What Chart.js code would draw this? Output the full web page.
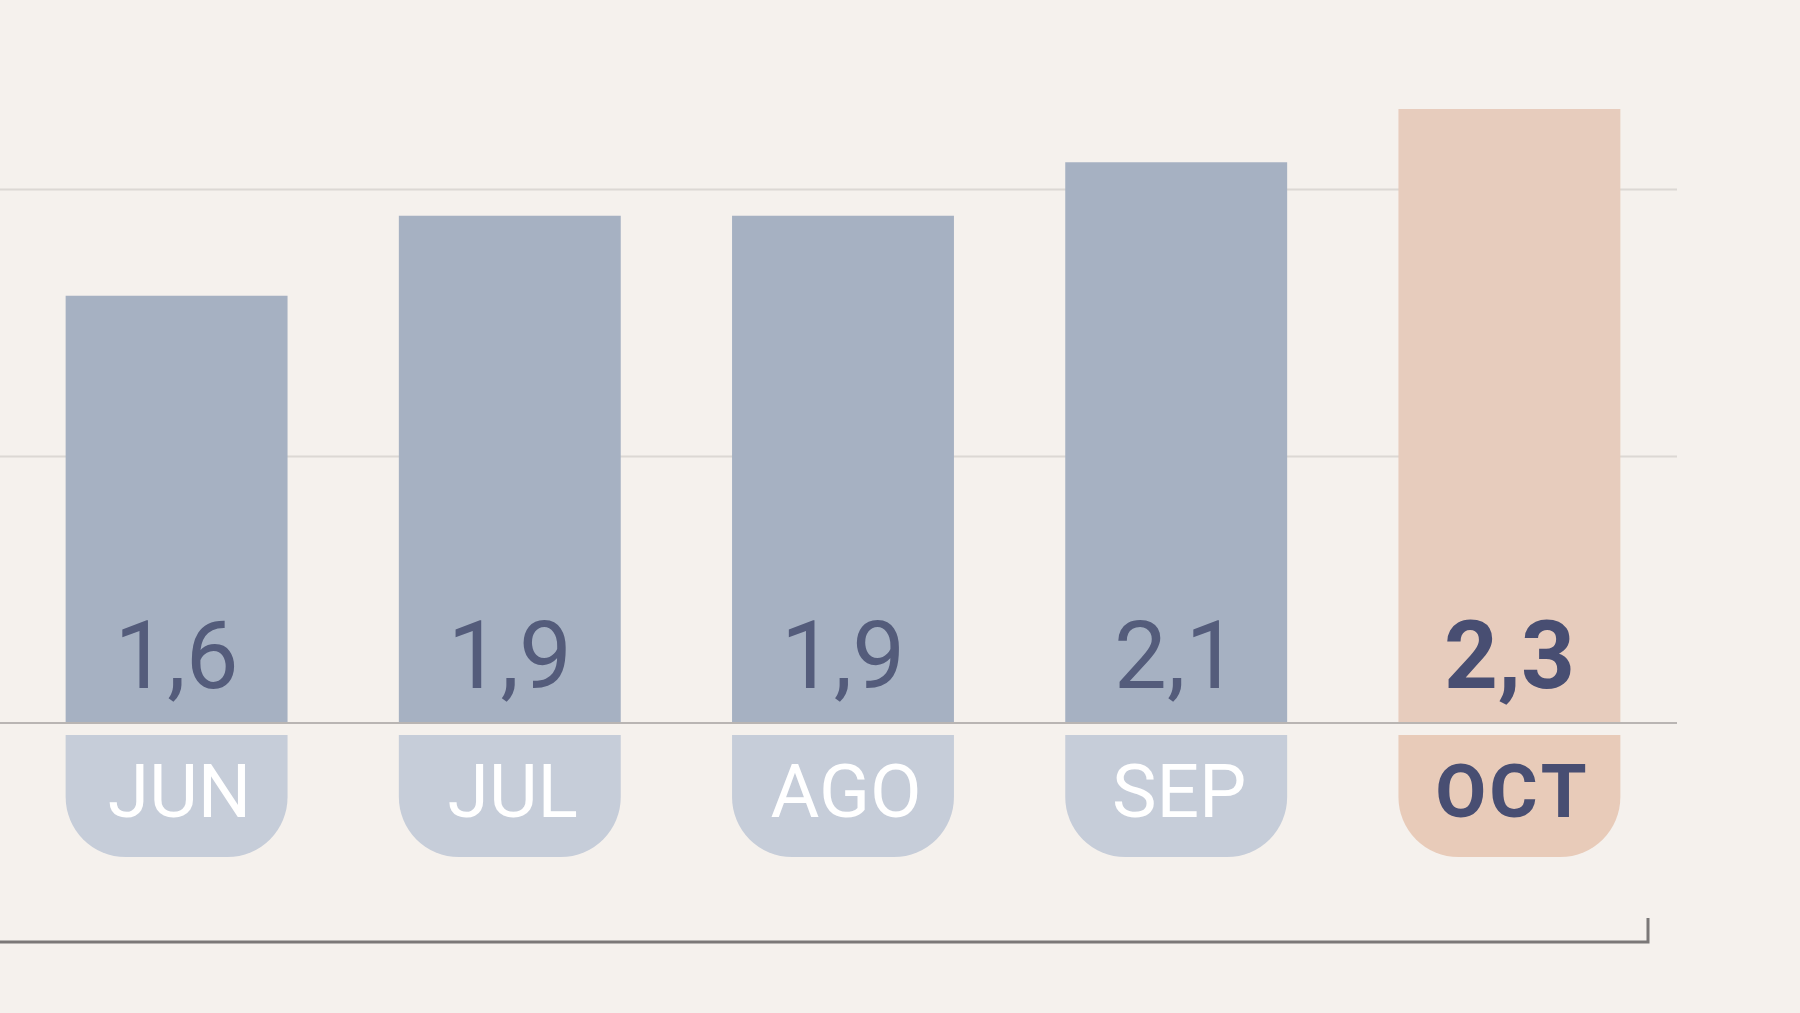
<!DOCTYPE html>
<html>
<head>
<meta charset="utf-8">
<script src="https://cdn.jsdelivr.net/npm/chart.js@4.4.1/dist/chart.umd.min.js"></script>
<style>
  html, body { margin: 0; padding: 0; background: #f5f1ed; }
  #wrap { width: 1800px; height: 1013px; position: relative; }
  .pre { position: absolute; left: -9999px; top: 0; font-family: Roboto; }
</style>
</head>
<body>
<div class="pre">1,6 JUN</div><div class="pre" style="font-weight:bold">2,3 OCT</div>
<div id="wrap"><canvas id="c" width="1800" height="1013"></canvas></div>
<script>
const months = ["JUN", "JUL", "AGO", "SEP", "OCT"];
const values = [1.6, 1.9, 1.9, 2.1, 2.3];
const gridValues = [0, 1, 2];
const highlightMonth = "OCT";

const BAR = "#a6b1c2", BAR_HI = "#e7ccbd";
const TAB = "#c6cdd9", TAB_HI = "#e8cbb9";
const TXT = "#545c7b", TXT_HI = "#484e72";
const FONT = "Roboto, sans-serif";

const isHi = i => months[i] === highlightMonth;

function spacedText(ctx, text, cx, y, spacing) {
  // centered text with extra letter spacing
  const widths = [...text].map(ch => ctx.measureText(ch).width);
  const total = ctx.measureText(text).width + spacing * (text.length - 1);
  let x = cx - total / 2;
  ctx.textAlign = "left";
  [...text].forEach((ch, k) => {
    ctx.fillText(ch, x, y);
    x += widths[k] + spacing;
  });
  ctx.textAlign = "center";
}

const overlay = {
  id: "overlay",
  beforeDatasetsDraw(chart) {
    const ctx = chart.ctx, y = chart.scales.y, area = chart.chartArea;
    ctx.save();
    ctx.strokeStyle = "#dcd8d4";
    ctx.lineWidth = 2;
    gridValues.forEach(v => {
      if (v === 0) return;
      const py = Math.round(y.getPixelForValue(v)) + 0.5;
      ctx.beginPath(); ctx.moveTo(0, py); ctx.lineTo(area.right + 1, py); ctx.stroke();
    });
    ctx.restore();
  },
  afterDatasetsDraw(chart) {
    const ctx = chart.ctx, y = chart.scales.y, area = chart.chartArea;
    const meta = chart.getDatasetMeta(0);
    const base = y.getPixelForValue(0);
    ctx.save();
    ctx.strokeStyle = "#b9b5b3";
    ctx.lineWidth = 2;
    ctx.beginPath(); ctx.moveTo(0, base); ctx.lineTo(area.right + 1, base); ctx.stroke();

    meta.data.forEach((bar, i) => {
      const w = bar.width, x0 = bar.x - w / 2;
      const t0 = base + 12, t1 = base + 134, r = 60;
      ctx.fillStyle = isHi(i) ? TAB_HI : TAB;
      ctx.beginPath();
      ctx.moveTo(x0, t0);
      ctx.lineTo(x0 + w, t0);
      ctx.lineTo(x0 + w, t1 - r);
      ctx.arcTo(x0 + w, t1, x0 + w - r, t1, r);
      ctx.lineTo(x0 + r, t1);
      ctx.arcTo(x0, t1, x0, t1 - r, r);
      ctx.closePath();
      ctx.fill();

      const label = values[i].toFixed(1).replace(".", ",");
      ctx.textAlign = "center";
      ctx.textBaseline = "alphabetic";
      if (isHi(i)) {
        ctx.font = "bold 94px " + FONT;
        ctx.fillStyle = TXT_HI;
      } else {
        ctx.font = "94px " + FONT;
        ctx.fillStyle = TXT;
      }
      ctx.fillText(label, bar.x, base - 35);

      if (isHi(i)) {
        ctx.font = "bold 74px " + FONT;
        ctx.fillStyle = TXT_HI;
        spacedText(ctx, months[i], bar.x + 1, base + 94, 3);
      } else {
        ctx.font = "75px " + FONT;
        ctx.fillStyle = "#ffffff";
        ctx.fillText(months[i], bar.x + 3, base + 94);
      }
    });

    ctx.strokeStyle = "#7b7878";
    ctx.lineWidth = 3;
    ctx.beginPath();
    ctx.moveTo(0, 942);
    ctx.lineTo(1648, 942);
    ctx.lineTo(1648, 918);
    ctx.stroke();
    ctx.restore();
  }
};

function draw() {
  new Chart(document.getElementById("c"), {
    type: "bar",
    data: {
      labels: months,
      datasets: [{
        data: values,
        backgroundColor: months.map((m, i) => isHi(i) ? BAR_HI : BAR),
        borderWidth: 0,
        categoryPercentage: 1,
        barPercentage: 0.666
      }]
    },
    options: {
      responsive: false,
      animation: false,
      devicePixelRatio: 1,
      layout: { padding: { left: 10, right: 124, top: 0, bottom: 290 } },
      plugins: { legend: { display: false }, tooltip: { enabled: false }, title: { display: false } },
      scales: {
        x: { display: false, offset: true, grid: { display: false } },
        y: { display: false, min: 0, max: 2.708, grid: { display: false } }
      }
    },
    plugins: [overlay]
  });
}

Promise.all([
  document.fonts.load("94px Roboto"),
  document.fonts.load("bold 94px Roboto")
]).then(draw, draw);
</script>
</body>
</html>
